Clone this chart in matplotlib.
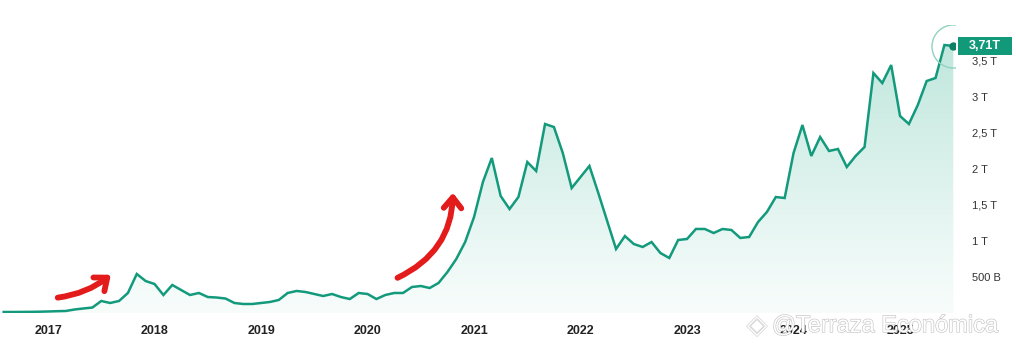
import numpy as np
import pandas as pd
import matplotlib
matplotlib.use("Agg")
import matplotlib.pyplot as plt
from matplotlib.patches import FancyArrowPatch, Rectangle
import matplotlib.patheffects as pe

# ---------------- data (monthly total value, in trillions) ----------------
start_month = "2016-08"
values = [0.014, 0.014, 0.015, 0.016, 0.018, 0.021, 0.025, 0.028, 0.049, 0.063,
          0.076, 0.167, 0.139, 0.167, 0.278, 0.542, 0.444, 0.403, 0.250, 0.389,
          0.319, 0.250, 0.278, 0.222, 0.215, 0.201, 0.139, 0.125, 0.125, 0.139,
          0.153, 0.181, 0.278, 0.306, 0.292, 0.264, 0.236, 0.264, 0.222, 0.194,
          0.278, 0.264, 0.194, 0.250, 0.278, 0.278, 0.361, 0.375, 0.347, 0.417,
          0.569, 0.750, 0.986, 1.333, 1.819, 2.153, 1.625, 1.444, 1.611, 2.097,
          1.972, 2.625, 2.583, 2.222, 1.736, 1.889, 2.042, 1.667, 1.278, 0.889,
          1.069, 0.958, 0.917, 0.986, 0.833, 0.764, 1.014, 1.028, 1.167, 1.167,
          1.111, 1.167, 1.153, 1.042, 1.056, 1.264, 1.403, 1.611, 1.597, 2.222,
          2.611, 2.181, 2.444, 2.250, 2.278, 2.028, 2.181, 2.306, 3.333, 3.194,
          3.444, 2.736, 2.625, 2.889, 3.222, 3.264, 3.722, 3.71]
x_years = [2017, 2018, 2019, 2020, 2021, 2022, 2023, 2024, 2025]
x_labels = ["2017", "2018", "2019", "2020", "2021", "2022", "2023", "2024", "2025"]
y_ticks = [0.5, 1.0, 1.5, 2.0, 2.5, 3.0, 3.5]
y_labels = ["500 B", "1 T", "1,5 T", "2 T", "2,5 T", "3 T", "3,5 T"]
last_label = "3,71T"
watermark = "@Terraza Económica"

months = pd.date_range(start_month, periods=len(values), freq="MS")
xs = np.array(months.year + (months.month - 1) / 12.0, dtype=float)
ys = np.array(values)

# ---------------- style ----------------
LINE = "#139a7c"
FONT = "Liberation Sans"
plt.rcParams["font.family"] = [FONT, "DejaVu Sans"]

W, H = 1016, 352
fig = plt.figure(figsize=(W / 100, H / 100), dpi=100)
ax = fig.add_axes([0.0, 39 / H, 955 / W, 288 / H])
ax.set_xlim(2016.549, 2025.516)
ax.set_ylim(0, 4.0)
for s in ax.spines.values():
    s.set_visible(False)

# gradient fill under the curve
poly = ax.fill_between(xs, ys, 0, color="none", linewidth=0)
grad = np.linspace(0, 1, 256).reshape(-1, 1)
top = np.array([0.74, 0.90, 0.86])
bot = np.array([0.97, 0.99, 0.985])
img = bot + (top - bot) * grad[:, :, None] ** 1.1
img = img[::-1]
im = ax.imshow(img, extent=[xs[0], xs[-1], 0, 3.9], aspect="auto",
               origin="upper", zorder=1, interpolation="bilinear")
im.set_clip_path(poly.get_paths()[0], transform=ax.transData)

ax.plot(xs, ys, color=LINE, lw=1.8, zorder=3, solid_joinstyle="miter")
ax.plot(xs[-1], ys[-1], "o", color="#0f7f66", ms=5, zorder=4)
ax.plot(xs[-1], ys[-1], "o", mfc="none", mec="#8fd3c0", ms=31, mew=1.0, zorder=4)

# ticks
ax.set_xticks(x_years)
ax.set_xticklabels(x_labels, fontsize=9, fontweight="bold", color="#222222")
ax.tick_params(axis="x", length=0, pad=9)
ax.yaxis.tick_right()
ax.set_yticks(y_ticks)
ax.set_yticklabels(y_labels, fontsize=8, color="#333333")
ax.tick_params(axis="y", length=0, pad=12)

# last value label box
fig.patches.append(Rectangle((958 / W, (H - 55) / H), 54 / W, 18 / H,
                             transform=fig.transFigure, facecolor="#12997a",
                             edgecolor="none", zorder=5))
fig.text(985 / W, (H - 46) / H, last_label, ha="center", va="center",
         fontsize=9, fontweight="bold", color="white", zorder=6)

# red hand-drawn arrows (axes fraction coordinates)
def to_ax(px, py):
    return (px / 955.0, (313.0 - py) / 288.0)

for tail, head, rad in [((55, 298), (113, 273), 0.15), ((395, 279), (453, 190), 0.32)]:
    arr = FancyArrowPatch(to_ax(*tail), to_ax(*head), transform=ax.transAxes,
                          connectionstyle=f"arc3,rad={rad}",
                          arrowstyle="->,head_length=0.55,head_width=0.45",
                          mutation_scale=14, color="#e31b1b", lw=4.2,
                          capstyle="round", joinstyle="round", zorder=6)
    ax.add_patch(arr)

# watermark
fig.text(772 / W, (H - 326) / H, watermark, ha="left", va="center", fontsize=17,
         color="white", zorder=10,
         path_effects=[pe.withStroke(linewidth=0.9, foreground="#c4c4c4")])
fig.text(757 / W, (H - 326) / H, "◈", ha="center", va="center", fontsize=19,
         color="white", zorder=10, family="DejaVu Sans",
         path_effects=[pe.withStroke(linewidth=0.9, foreground="#cfcfcf")])

fig.savefig("out.png", dpi=100)
